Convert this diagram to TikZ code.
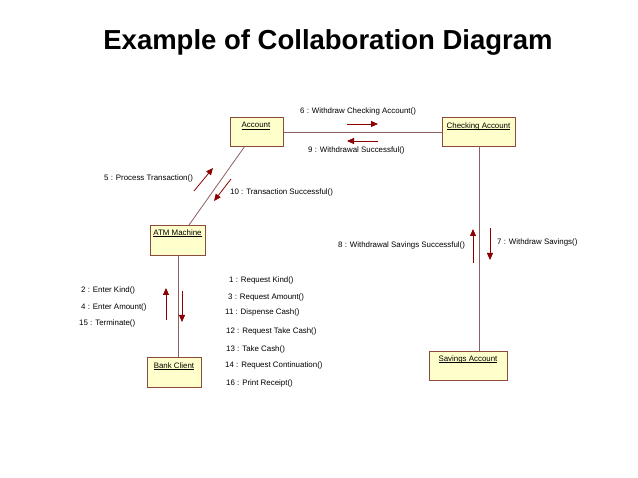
\documentclass[tikz,border=0pt]{standalone}
\usepackage{fontspec}
\setmainfont{Liberation Sans}
\usetikzlibrary{arrows.meta}
\definecolor{boxfill}{HTML}{FFFFCC}
\definecolor{boxdraw}{HTML}{8B4A3A}
\definecolor{linkc}{HTML}{8C6060}
\definecolor{arrc}{HTML}{8B0000}
\newcommand{\ul}[1]{\setbox0\hbox{#1}\leavevmode\rlap{\vrule height -1pt depth 1.5pt width \wd0}\box0}
\begin{document}
\begin{tikzpicture}[x=1pt,y=-1pt,
  obj/.style={draw=boxdraw,fill=boxfill,line width=0.8pt,anchor=north west,inner sep=0pt,align=center},
  link/.style={draw=linkc,line width=0.8pt},
  msg/.style={draw=arrc,line width=0.8pt,-{Triangle[length=7pt,width=6pt]}},
  lbl/.style={font=\fontsize{7.9}{10}\selectfont,inner sep=0pt}]
\useasboundingbox (0,0) rectangle (638,478);
\node[font=\bfseries\fontsize{27.5}{32}\selectfont] (title) at (328,42) {Example of Collaboration Diagram};
\node[obj,minimum width=53pt,minimum height=29pt] (acc) at (230,117) {};
\node[lbl] at (256,126) {\ul{Account}};
\node[obj,minimum width=73pt,minimum height=29pt] (chk) at (442,117) {};
\node[lbl] at (478.5,126) {\ul{Checking Account}};
\node[obj,minimum width=55pt,minimum height=30pt] (atm) at (150,225) {};
\node[lbl] at (177.5,233) {\ul{ATM Machine}};
\node[obj,minimum width=54pt,minimum height=30pt] (bank) at (147,357) {};
\node[lbl] at (174,366) {\ul{Bank Client}};
\node[obj,minimum width=78pt,minimum height=29pt] (sav) at (429,351) {};
\node[lbl] at (468,359) {\ul{Savings Account}};
% links
\draw[link] (acc.east |- 0,132) -- (chk.west |- 0,132);
\draw[link] (245,146) -- (189,225);
\draw[link] (178,255) -- (178,357);
\draw[link] (479,146) -- (479,351);
% messages
\coordinate (a6s) at (347,124); \coordinate (a6e) at (378,124);
\draw[msg] (a6s) -- (a6e);
\coordinate (a9s) at (378,141); \coordinate (a9e) at (347,141);
\draw[msg] (a9s) -- (a9e);
\coordinate (a5s) at (194,191); \coordinate (a5e) at (213,168);
\draw[msg] (a5s) -- (a5e);
\coordinate (a10s) at (231,179); \coordinate (a10e) at (214,201);
\draw[msg] (a10s) -- (a10e);
\coordinate (a7s) at (490,228); \coordinate (a7e) at (490,260);
\draw[msg] (a7s) -- (a7e);
\coordinate (a8s) at (473,263); \coordinate (a8e) at (473,229);
\draw[msg] (a8s) -- (a8e);
\coordinate (a2s) at (166,320); \coordinate (a2e) at (166,288);
\draw[msg] (a2s) -- (a2e);
\coordinate (a1s) at (182,291); \coordinate (a1e) at (182,322);
\draw[msg] (a1s) -- (a1e);
% labels
\node[lbl,anchor=west] at (300,111) {6 : Withdraw Checking Account()};
\node[lbl,anchor=west] at (308,150) {9 : Withdrawal Successful()};
\node[lbl,anchor=west] at (104,178) {5 : Process Transaction()};
\node[lbl,anchor=west] at (230,192) {10 : Transaction Successful()};
\node[lbl,anchor=west] at (338,245) {8 : Withdrawal Savings Successful()};
\node[lbl,anchor=west] at (497,242) {7 : Withdraw Savings()};
\node[lbl,anchor=west] at (81,290) {2 : Enter Kind()};
\node[lbl,anchor=west] at (81,307) {4 : Enter Amount()};
\node[lbl,anchor=west] at (79,323) {15 : Terminate()};
\node[lbl,anchor=west] at (229,280) {1 : Request Kind()};
\node[lbl,anchor=west] at (228,297) {3 : Request Amount()};
\node[lbl,anchor=west] at (225,312) {11 : Dispense Cash()};
\node[lbl,anchor=west] at (226,331) {12 : Request Take Cash()};
\node[lbl,anchor=west] at (226,349) {13 : Take Cash()};
\node[lbl,anchor=west] at (225,365) {14 : Request Continuation()};
\node[lbl,anchor=west] at (226,383) {16 : Print Receipt()};
\end{tikzpicture}
\end{document}
